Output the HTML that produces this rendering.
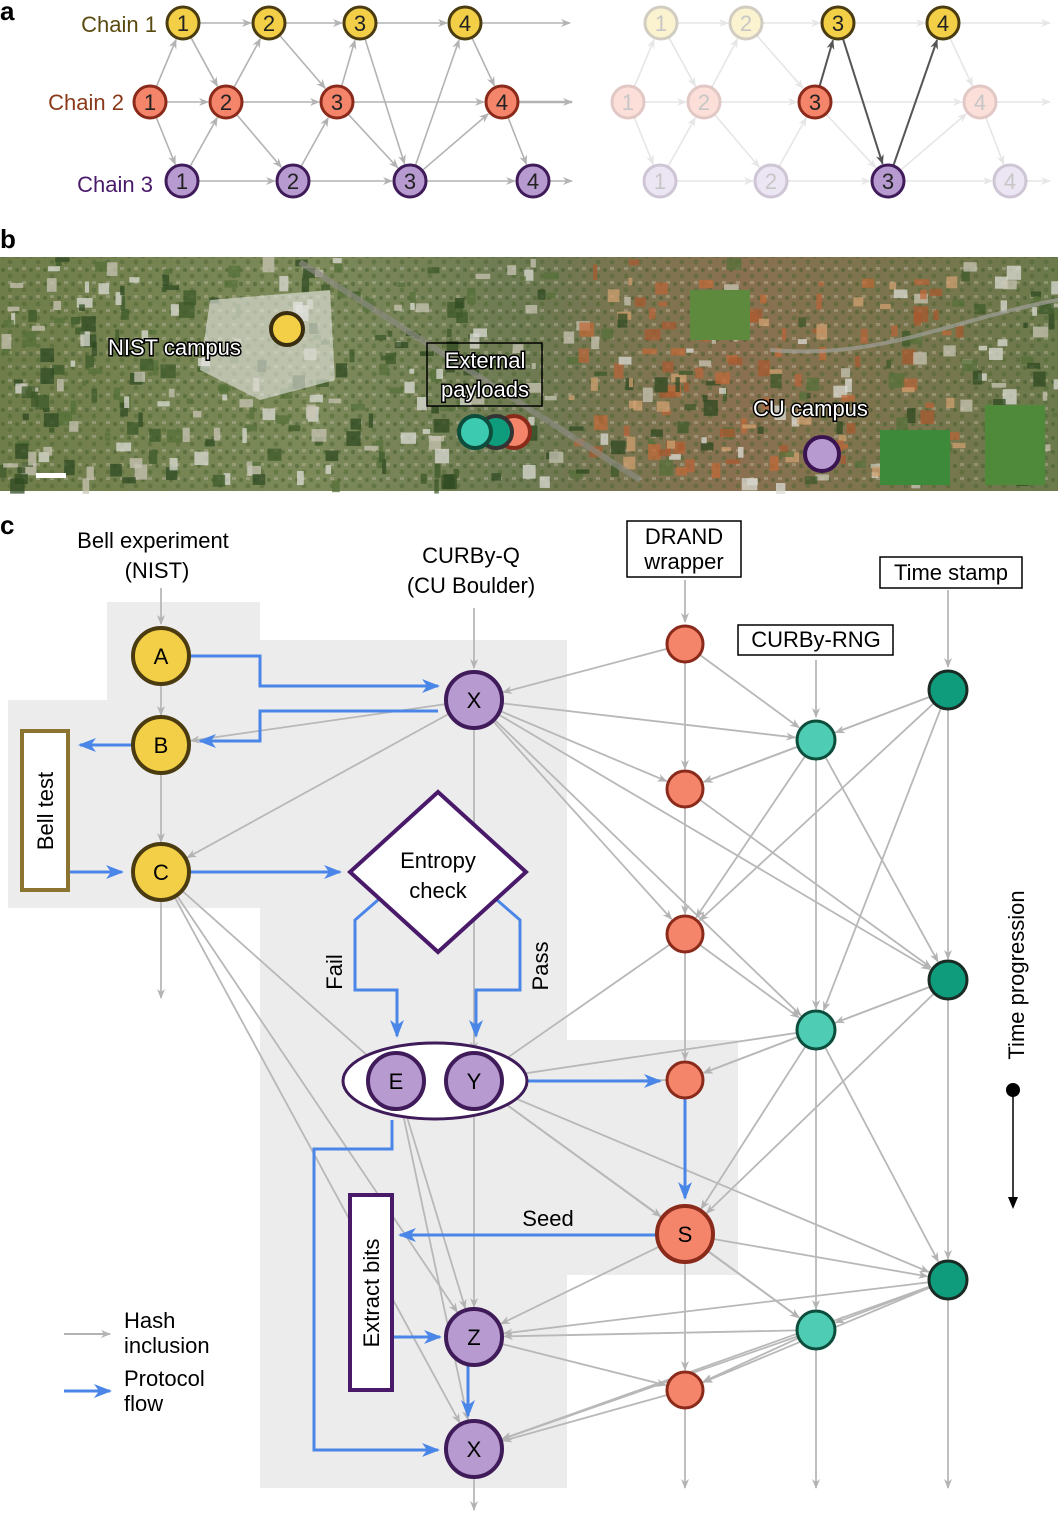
<!DOCTYPE html>
<html><head><meta charset="utf-8"><style>
html,body{margin:0;padding:0;background:#fff;}
svg{display:block;font-family:"Liberation Sans",Arial,sans-serif;}
</style></head><body>
<svg id="s" width="1058" height="1513" viewBox="0 0 1058 1513" xmlns="http://www.w3.org/2000/svg">
<defs>
<marker id="g" markerWidth="10" markerHeight="10" refX="9" refY="5" orient="auto" markerUnits="userSpaceOnUse"><path d="M0,1 L10,5 L0,9 L3,5 z" fill="#b3b3b3"/></marker>
<marker id="gl" markerWidth="10" markerHeight="10" refX="9" refY="5" orient="auto" markerUnits="userSpaceOnUse"><path d="M0,1 L10,5 L0,9 L3,5 z" fill="#e6e6e6"/></marker>
<marker id="dk" markerWidth="10" markerHeight="10" refX="9" refY="5" orient="auto" markerUnits="userSpaceOnUse"><path d="M0,1 L10,5 L0,9 L3,5 z" fill="#555"/></marker>
<marker id="b" markerWidth="18" markerHeight="16" refX="16" refY="8" orient="auto" markerUnits="userSpaceOnUse"><path d="M0,1 L18,8 L0,15 L5,8 z" fill="#4a86e8"/></marker>
<marker id="bk" markerWidth="12" markerHeight="12" refX="10" refY="6" orient="auto" markerUnits="userSpaceOnUse"><path d="M0,1 L12,6 L0,11 z" fill="#000"/></marker>
<linearGradient id="sat" x1="0" x2="1" y1="0" y2="0">
<stop offset="0" stop-color="#6f7d4a"/><stop offset="0.3" stop-color="#7d8a5a"/><stop offset="0.5" stop-color="#6e7a52"/><stop offset="0.7" stop-color="#8a7050"/><stop offset="1" stop-color="#6b7a4c"/></linearGradient>
<pattern id="tex" width="14" height="14" patternUnits="userSpaceOnUse"><circle cx="3" cy="4" r="2" fill="#3f5a2a" opacity="0.5"/><circle cx="10" cy="10" r="2.5" fill="#4d6632" opacity="0.5"/><rect x="8" y="1" width="4" height="3" fill="#c9c3b0" opacity="0.35"/></pattern>
</defs>
<text x="0" y="20" font-size="26" font-weight="bold">a</text>
<text x="0" y="248" font-size="26" font-weight="bold">b</text>
<text x="0" y="534" font-size="26" font-weight="bold">c</text>
<text x="157" y="32" font-size="22" fill="#5a4a10" text-anchor="end">Chain 1</text>
<text x="124" y="110" font-size="22" fill="#8a3a1a" text-anchor="end">Chain 2</text>
<text x="153" y="192" font-size="22" fill="#4a1a6a" text-anchor="end">Chain 3</text>
<g id="pa"></g>
<rect x="0" y="257" width="1058" height="234" fill="url(#sat)"/>
<rect x="0" y="257" width="1058" height="234" fill="url(#tex)"/>
<g id="bld"></g>
<polygon points="210,300 330,290 335,380 260,400 200,370" fill="#e8e8e4" opacity="0.6"/>
<rect x="880" y="430" width="70" height="55" fill="#3d8a3a"/>
<rect x="985" y="405" width="60" height="80" fill="#4f8a3a"/>
<rect x="690" y="290" width="60" height="50" fill="#5d8a3c"/>
<rect x="36" y="473" width="30" height="5" fill="#fff"/>
<g font-size="22" stroke="#000" stroke-width="3" paint-order="stroke" fill="#fff">
<text x="108" y="355">NIST campus</text>
<text x="485" y="368" text-anchor="middle">External</text>
<text x="485" y="397" text-anchor="middle">payloads</text>
<text x="753" y="416">CU campus</text>
</g>
<rect x="427" y="343" width="115" height="63" fill="none" stroke="#000" stroke-width="1.5"/>
<circle cx="287" cy="329" r="16" fill="#f2cf46" stroke="#3a2e10" stroke-width="4"/>
<circle cx="514" cy="432" r="16" fill="#f4846a" stroke="#8a2a1a" stroke-width="4"/>
<circle cx="496" cy="432" r="16" fill="#0e9c7c" stroke="#333" stroke-width="4"/>
<circle cx="475" cy="432" r="16" fill="#3ccbb0" stroke="#0c4d3c" stroke-width="4"/>
<circle cx="822" cy="454" r="17" fill="#b79ad0" stroke="#3a1450" stroke-width="4"/>
<path d="M107,602 H260 V640 H567 V1040 H738 V1275 H567 V1488 H260 V908 H8 V700 H107 Z" fill="#ececec"/>
<g font-size="22" text-anchor="middle">
<text x="153" y="548">Bell experiment</text><text x="157" y="578">(NIST)</text>
<text x="471" y="563">CURBy-Q</text><text x="471" y="593">(CU Boulder)</text>
<text x="684" y="544">DRAND</text><text x="684" y="569">wrapper</text>
<text x="951" y="580">Time stamp</text>
<text x="816" y="647">CURBy-RNG</text>
<text x="548" y="1226">Seed</text>
</g>
<rect x="627" y="521" width="114" height="56" fill="none" stroke="#000" stroke-width="1.5"/>
<rect x="880" y="557" width="142" height="31" fill="none" stroke="#000" stroke-width="1.5"/>
<rect x="738" y="625" width="155" height="30" fill="none" stroke="#000" stroke-width="1.5"/>
<g id="ge"></g>
<g id="be" fill="none" stroke="#4a86e8" stroke-width="3"></g>
<g id="nd"></g>
<polygon points="438,792 526,872 438,952 350,872" fill="#fff" stroke="#4a1a6a" stroke-width="4"/>
<text x="438" y="868" font-size="22" text-anchor="middle">Entropy</text>
<text x="438" y="898" font-size="22" text-anchor="middle">check</text>
<rect x="22" y="731" width="46" height="159" fill="#fff" stroke="#8a7430" stroke-width="4"/>
<text transform="translate(53,811) rotate(-90)" font-size="22" text-anchor="middle">Bell test</text>
<rect x="350" y="1195" width="42" height="195" fill="#fff" stroke="#4a1a6a" stroke-width="4"/>
<text transform="translate(379,1293) rotate(-90)" font-size="22" text-anchor="middle">Extract bits</text>
<text transform="translate(342,972) rotate(-90)" font-size="22" text-anchor="middle">Fail</text>
<text transform="translate(548,966) rotate(-90)" font-size="22" text-anchor="middle">Pass</text>
<text transform="translate(1024,975) rotate(-90)" font-size="22" text-anchor="middle">Time progression</text>
<circle cx="1013" cy="1090" r="7" fill="#000"/>
<line x1="1013" y1="1090" x2="1013" y2="1207" stroke="#000" stroke-width="1.5" marker-end="url(#bk)"/>
<line x1="64" y1="1334" x2="110" y2="1334" stroke="#b3b3b3" stroke-width="2" marker-end="url(#g)"/>
<line x1="64" y1="1391" x2="110" y2="1391" stroke="#4a86e8" stroke-width="3" marker-end="url(#b)"/>
<g font-size="22"><text x="124" y="1328">Hash</text><text x="124" y="1353">inclusion</text><text x="124" y="1386">Protocol</text><text x="124" y="1411">flow</text></g>
</svg>
<script>
const NS="http://www.w3.org/2000/svg";
function el(p,t,a){const e=document.createElementNS(NS,t);for(const k in a)e.setAttribute(k,a[k]);p.appendChild(e);return e;}
// satellite buildings
(function(){const g=document.getElementById("bld");let s=7;function r(){s=(s*16807)%2147483647;return s/2147483647;}
for(let i=0;i<500;i++){const x=r()*1058,y=257+r()*226;let c;
 if(x>560&&x<960&&r()<0.6)c=["#c06a3a","#b8643a","#d0a070","#a85a30"][Math.floor(r()*4)];
 else c=["#dcdcd6","#3e5a2a","#55703a","#c8c4b4","#2f4a22"][Math.floor(r()*5)];
 el(g,"rect",{x,y,width:4+r()*12,height:4+r()*12,fill:c,opacity:0.75});}
el(g,"path",{d:"M300,262 L640,480",stroke:"#8a8a80","stroke-width":6,fill:"none",opacity:0.7});
el(g,"path",{d:"M1058,300 C950,320 880,360 770,350",stroke:"#a0a098","stroke-width":4,fill:"none",opacity:0.7});
})();
const Y={f:"#f2cf46",s:"#4a3b10"},R={f:"#f4846a",s:"#8a2a1a"},P={f:"#b79ad0",s:"#3f1b5a"},T={f:"#4ecdb4",s:"#0c4d3c"},D={f:"#0e9c7c",s:"#1a2a24"};
const pa=document.getElementById("pa");
function chainSet(xs,faded,act){
 const N={};const ys=[23,102,181],cs=[Y,R,P];
 for(let c=0;c<3;c++)for(let i=0;i<4;i++)N[(c+1)+""+(i+1)]=[xs[c][i],ys[c]];
 const E=[["11","12"],["12","13"],["13","14"],["21","22"],["22","23"],["23","24"],["31","32"],["32","33"],["33","34"],
 ["11","22"],["21","11"],["21","31"],["31","22"],["22","12"],["12","23"],["22","32"],["32","23"],["23","13"],["13","33"],["23","33"],["33","14"],["33","24"],["14","24"],["24","34"]];
 for(const [a,b] of E){const A=N[a],B=N[b];const dx=B[0]-A[0],dy=B[1]-A[1],L=Math.hypot(dx,dy);const r=17;
  const on=act&&act.includes(a+b);
  el(pa,"line",{x1:A[0]+dx/L*r,y1:A[1]+dy/L*r,x2:B[0]-dx/L*(r+1),y2:B[1]-dy/L*(r+1),stroke:on?"#555":(faded?"#e6e6e6":"#b3b3b3"),"stroke-width":on?2:1.6,"marker-end":on?"url(#dk)":(faded?"url(#gl)":"url(#g)")});}
 for(let c=0;c<3;c++){const A=N[(c+1)+"4"];el(pa,"line",{x1:A[0]+17,y1:A[1],x2:xs[c][4],y2:A[1],stroke:faded?"#e6e6e6":"#b3b3b3","stroke-width":c==1&&!faded?2.5:1.6,"marker-end":faded?"url(#gl)":"url(#g)"});}
 for(let c=0;c<3;c++)for(let i=0;i<4;i++){const k=(c+1)+""+(i+1),p=N[k];const hi=!faded||["13","23","33","14"].includes(k);
  const g=el(pa,"g",{opacity:hi?1:0.25});
  el(g,"circle",{cx:p[0],cy:p[1],r:16,fill:cs[c].f,stroke:cs[c].s,"stroke-width":3});
  const t=el(g,"text",{x:p[0],y:p[1]+8,"font-size":22,"text-anchor":"middle",fill:"#222"});t.textContent=i+1;}
}
chainSet([[183,269,360,465,570],[150,226,337,502,572],[182,293,410,533,572]],false);
chainSet([[661,746,838,943,1050],[628,704,815,980,1050],[660,771,888,1010,1050]],true,["2313","1333","3314"]);
const n={A:[161,656,28,Y],B:[161,745,28,Y],C:[161,872,28,Y],X1:[474,700,28,P],
D1:[685,644,18,R],D2:[685,789,18,R],D3:[685,934,18,R],D4:[685,1080,18,R],S:[685,1234,28,R],D6:[685,1390,18,R],
R1:[816,740,19,T],R2:[816,1030,19,T],R3:[816,1330,19,T],T1:[948,690,19,D],T2:[948,980,19,D],T3:[948,1280,19,D],
E:[396,1081,28,P],Yn:[474,1081,28,P],Z:[474,1337,28,P],X2:[474,1449,28,P]};
const ge=document.getElementById("ge");
function line(a,b){const A=n[a],B=n[b];const dx=B[0]-A[0],dy=B[1]-A[1],L=Math.hypot(dx,dy);
 el(ge,"line",{x1:A[0]+dx/L*A[2],y1:A[1]+dy/L*A[2],x2:B[0]-dx/L*(B[2]+2),y2:B[1]-dy/L*(B[2]+2),stroke:"#b8b8b8","stroke-width":1.8,"marker-end":"url(#g)"});}
const ed=[["A","B"],["B","C"],["D1","X1"],["X1","B"],["X1","C"],["X1","R1"],["X1","D2"],["X1","D3"],["X1","R2"],["X1","T2"],["X1","Yn"],
["D1","R1"],["D1","D2"],["R1","D2"],["R1","D3"],["R1","T2"],["R1","R2"],["T1","R1"],["T1","D2"],["T1","D3"],["T1","R2"],["T1","T2"],
["D2","T2"],["D2","D3"],["D3","R2"],["D3","Yn"],["D3","D4"],["R2","Yn"],["R2","D4"],["R2","S"],["R2","T3"],["R2","R3"],
["T2","R2"],["T2","D4"],["T2","S"],["T2","T3"],["D4","Yn"],["C","E"],["C","Z"],["C","X2"],["Yn","S"],["Yn","Z"],["Yn","T3"],["Yn","R3"],
["E","Z"],["E","X2"],["S","Z"],["S","T3"],["S","R3"],["T3","Z"],["T3","R3"],["T3","D6"],["T3","X2"],["R3","Z"],["R3","D6"],["R3","X2"],["D6","X2"],["Z","D6"],["S","D6"]];
ed.forEach(e=>line(e[0],e[1]));
function seg(x1,y1,x2,y2){el(ge,"line",{x1,y1,x2,y2,stroke:"#b8b8b8","stroke-width":1.8,"marker-end":"url(#g)"});}
seg(161,588,161,624);seg(474,608,474,668);seg(685,580,685,622);seg(816,660,816,717);seg(948,590,948,667);
seg(161,900,161,998);seg(474,1478,474,1510);seg(685,1408,685,1488);seg(816,1350,816,1488);seg(948,1300,948,1488);
const be=document.getElementById("be");
function bp(d){el(be,"path",{d,"marker-end":"url(#b)"});}
bp("M190,656 H260 V686 H438");bp("M438,711 H260 V741 H200");bp("M132,745 H80");bp("M68,872 H122");bp("M190,872 H340");
bp("M378,900 L355,920 V990 H397 V1036");bp("M497,900 L520,920 V990 H476 V1036");bp("M527,1081 H660");bp("M685,1099 V1198");
bp("M657,1235 H400");bp("M392,1337 H440");bp("M468,1366 V1416");bp("M392,1120 V1149 H314 V1450 H438");
const nd=document.getElementById("nd");
el(nd,"ellipse",{cx:435,cy:1081,rx:92,ry:38,fill:"#fff",stroke:"#3f1b5a","stroke-width":3});
const lab={A:"A",B:"B",C:"C",X1:"X",E:"E",Yn:"Y",Z:"Z",X2:"X",S:"S"};
for(const k in n){const v=n[k];el(nd,"circle",{cx:v[0],cy:v[1],r:v[2],fill:v[3].f,stroke:v[3].s,"stroke-width":v[2]>20?4:3});
 if(lab[k]){const t=el(nd,"text",{x:v[0],y:v[1]+8,"font-size":22,"text-anchor":"middle"});t.textContent=lab[k];}}
</script>
</body></html>
